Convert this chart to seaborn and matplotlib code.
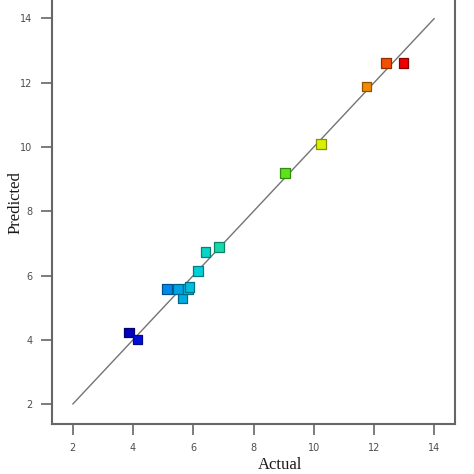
import numpy as np
import pandas as pd
import matplotlib
matplotlib.use('Agg')
import matplotlib.pyplot as plt
from matplotlib.colors import LinearSegmentedColormap, Normalize
import seaborn as sns

actual = [3.87, 4.15, 5.13, 5.49, 5.64, 5.82, 5.87, 6.15, 6.40, 6.85,
          9.04, 10.24, 11.75, 12.40, 12.98]
predicted = [4.23, 4.01, 5.58, 5.58, 5.29, 5.58, 5.65, 6.15, 6.74, 6.88,
             9.19, 10.10, 11.88, 12.61, 12.61]
ticks = [2, 4, 6, 8, 10, 12, 14]

df = pd.DataFrame({'Actual': actual, 'Predicted': predicted})

sns.set_style('ticks')

cmap = LinearSegmentedColormap.from_list('de', [
    (0.00, (0.0, 0.0, 0.75)),
    (0.05, (0.0, 0.10, 0.95)),
    (0.14, (0.0, 0.55, 0.92)),
    (0.25, (0.0, 0.82, 0.85)),
    (0.35, (0.12, 0.86, 0.62)),
    (0.57, (0.35, 0.90, 0.10)),
    (0.70, (0.85, 0.95, 0.0)),
    (0.865, (0.95, 0.55, 0.0)),
    (0.94, (0.95, 0.30, 0.0)),
    (1.00, (0.93, 0.0, 0.0)),
])
norm = Normalize(min(actual), max(actual))

fig = plt.figure(figsize=(4.74, 4.74), dpi=100)
ax = fig.add_axes([0.1097, 0.1055, 0.8503, 0.8975])

ax.plot([2, 14], [2, 14], color='0.45', lw=1.0, zorder=1)

sns.scatterplot(data=df, x='Actual', y='Predicted', hue='Actual', palette=cmap,
                hue_norm=norm, marker='s', s=48, linewidth=0.9, legend=False,
                ax=ax, zorder=3)
coll = ax.collections[0]
fc = coll.get_facecolors()
ec = fc.copy()
ec[:, :3] = ec[:, :3] * 0.6
coll.set_edgecolors(ec)

ax.set_xlim(1.31, 14.69)
ax.set_ylim(1.38, 14.62)
ax.set_xticks(ticks)
ax.set_yticks(ticks)
ax.tick_params(direction='out', length=8, width=1.2, color='0.4',
               labelsize=7, labelcolor='0.3', pad=6)

for s in ax.spines.values():
    s.set_color('0.4')
    s.set_linewidth(1.5)

ax.set_xlabel('Actual', family='Liberation Serif', fontsize=12, color='0.1')
ax.set_ylabel('Predicted', family='Liberation Serif', fontsize=12, color='0.1')
ax.xaxis.set_label_coords(0.566, -0.077)
ax.yaxis.set_label_coords(-0.07, 0.52)

fig.savefig('out.png', dpi=100)
